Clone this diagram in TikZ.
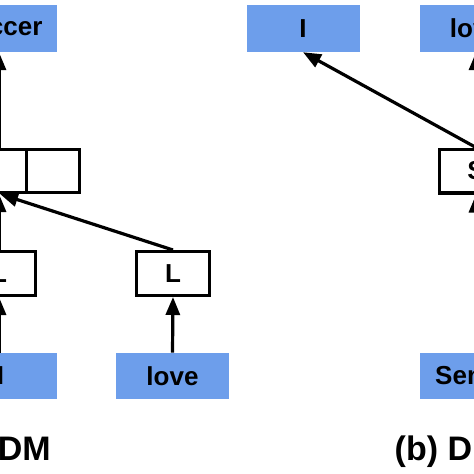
\documentclass[tikz,border=0pt]{standalone}
\usepackage{fontspec}
\setmainfont{Liberation Sans}
\usetikzlibrary{arrows.meta}
\definecolor{boxblue}{RGB}{109,158,235}
\begin{document}
\begin{tikzpicture}[x=1pt,y=-1pt,
  word/.style={fill=boxblue, minimum width=113pt, minimum height=47pt, inner sep=0pt,
    font=\fontsize{26}{26}\selectfont\bfseries},
  lbox/.style={draw, line width=3.3pt, minimum width=72.7pt, minimum height=43.7pt, inner sep=0pt,
    font=\fontsize{26}{26}\selectfont\bfseries},
  cell/.style={draw, line width=3.3pt, minimum width=53pt, minimum height=42.7pt, inner sep=0pt},
  arr/.style={line width=3.2pt, -{Triangle[length=18pt,width=14pt]}},
  captxt/.style={inner sep=0pt, font=\fontsize{34}{34}\selectfont\bfseries}]
\useasboundingbox (0,0) rectangle (474,474);
\clip (0,0) rectangle (474,474);
% (a)
\node[word] (soccer) at (0.5,28.5) {soccer};
\node[cell] (c1) at (-53,171) {};
\node[cell] (c2) at (0,171) {};
\node[cell] (c3) at (53,171) {};
\node[lbox] (l1) at (-1,273.5) {L};
\node[lbox] (l2) at (173,273.5) {L};
\node[word, minimum height=46.5pt] (w1) at (0.5,376) {I};
\node[word, minimum height=46.5pt] (w2) at (172.5,376) {love};
\draw[arr] (w1.north -| -1,0) -- (l1.south);
\draw[arr] (w2.north) -- (l2.south);
\draw[arr] (l1.north) -- (c2.south -| -1,0);
\draw[arr] (l2.north) -- (c2.south);
\draw[arr] (c2.north -| -1,0) -- (soccer.south -| -1,0);
\node[captxt, anchor=base east] (capa) at (51,460) {DM};
% (b)
\node[word] (i2) at (303,28.5) {I};
\node[word] (love2) at (476,28.5) {love};
\node[lbox] (s) at (476,171) {S};
\node[word, minimum height=46.5pt] (sen) at (476,376) {};
\node[anchor=west, inner sep=0pt, font=\fontsize{26}{26}\selectfont\bfseries] (sentxt) at (435,376) {Sen};
\draw[arr] (sen.north) -- (s.south);
\draw[arr] (s.north) -- (love2.south);
\draw[arr] (s.north) -- (i2.south);
\node[captxt, anchor=base west] (capb) at (394.5,460) {(b) D};
\end{tikzpicture}
\end{document}
